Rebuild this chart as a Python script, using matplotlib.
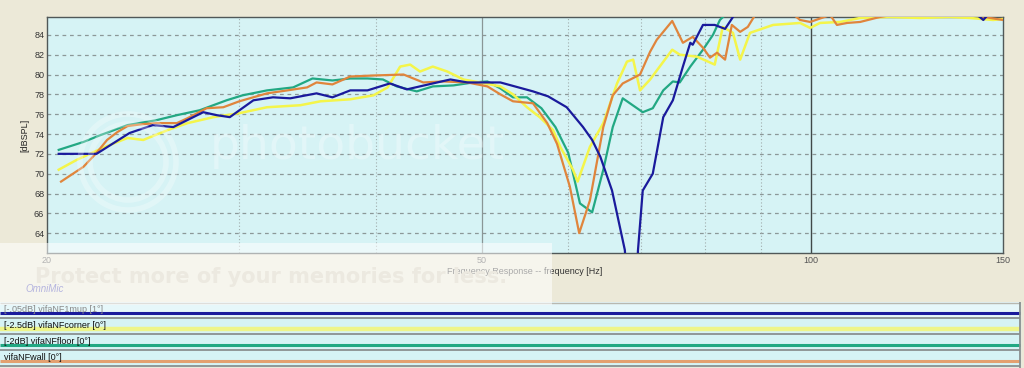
import matplotlib
matplotlib.use('Agg')
import matplotlib.pyplot as plt
from matplotlib.patches import Rectangle, Ellipse

# OmniMic near-field traces
f_mup = [20.5, 22.2, 23.8, 25.0, 26.1, 27.8, 28.6, 29.4, 30.9, 32.2, 33.4, 35.3, 36.5, 37.9,
         39.3, 41.2, 42.7, 45.1, 46.8, 48.5, 52.0, 55.7, 57.5, 59.8, 61.9, 63.1, 64.2, 65.8,
         67.6, 68.0, 69.2, 69.5, 70.2, 71.7, 73.3, 74.8, 76.4, 77.6, 78.0, 79.7, 81.7, 83.5,
         84.9, 86.5, 100, 130, 140, 143.9, 146.9, 150]
db_mup = [72.0, 72.0, 74.1, 74.9, 74.7, 76.2, 75.9, 75.7, 77.4, 77.7, 77.6, 78.1, 77.7, 78.4,
          78.4, 79.1, 78.5, 79.1, 79.5, 79.2, 79.2, 78.3, 77.8, 76.7, 74.7, 73.4, 71.7, 68.3,
          62.3, 58.0, 58.0, 62.3, 68.3, 70.0, 75.7, 77.4, 80.8, 83.2, 83.0, 85.0, 85.0, 84.6,
          85.8, 87.5, 90.0, 89.0, 86.6, 85.5, 86.6, 87.0]

f_corner = [20.5, 21.3, 22.6, 23.7, 24.5, 25.8, 26.9, 28.4, 30.0, 31.8, 34.1, 35.6, 37.9, 39.8,
            41.0, 42.1, 43.0, 43.9, 45.1, 46.5, 48.1, 49.8, 52.0, 53.4, 55.0, 56.5, 58.1, 59.0,
            60.6, 61.2, 62.8, 64.6, 66.5, 67.9, 68.8, 69.8, 71.3, 74.7, 75.9, 78.7, 81.7, 83.1,
            84.9, 86.2, 88.0, 92.4, 97.8, 99.9, 102, 106.4, 111, 118, 126, 134, 140, 146.9, 150]
db_corner = [70.4, 71.4, 72.7, 73.6, 73.4, 74.4, 75.1, 75.7, 76.1, 76.7, 76.9, 77.3, 77.5, 77.9,
             78.7, 80.8, 81.0, 80.3, 80.8, 80.3, 79.5, 79.2, 78.8, 78.0, 76.7, 75.7, 74.4, 72.7,
             70.4, 69.2, 72.7, 75.1, 79.1, 81.3, 81.5, 78.4, 79.5, 82.5, 82.0, 81.8, 81.0, 84.8,
             84.2, 81.5, 84.2, 85.0, 85.2, 84.7, 85.2, 85.3, 85.7, 85.8, 85.7, 85.8, 85.7, 85.5, 85.6]

f_floor = [20.5, 21.6, 22.4, 23.7, 25.2, 26.3, 27.6, 29.2, 30.2, 31.8, 33.6, 35.0, 36.5, 37.9,
           39.3, 40.6, 41.8, 43.6, 45.1, 47.1, 49.1, 50.6, 52.0, 53.4, 55.0, 56.7, 58.4, 60.0,
           61.5, 63.1, 64.6, 65.9, 67.3, 70.2, 71.7, 73.3, 74.8, 75.9, 77.6, 79.7, 81.4, 82.6,
           84.4, 90, 150]
db_floor = [72.4, 73.2, 73.9, 74.9, 75.4, 75.9, 76.4, 77.4, 77.9, 78.4, 78.7, 79.6, 79.4, 79.6,
            79.6, 79.5, 78.8, 78.3, 78.8, 78.9, 79.2, 79.3, 78.6, 77.7, 77.7, 76.6, 74.7, 72.1,
            67.0, 66.1, 70.4, 74.7, 77.6, 76.2, 76.6, 78.4, 79.3, 79.2, 80.8, 82.5, 84.0, 85.5,
            86.5, 88.0, 88.0]

f_wall = [20.6, 21.6, 22.2, 22.7, 23.2, 23.7, 24.5, 25.2, 26.3, 26.9, 28.0, 29.0, 30.0, 31.8,
          33.2, 34.6, 35.3, 36.5, 37.9, 39.8, 42.4, 44.2, 46.1, 48.5, 50.6, 52.0, 53.4, 55.7,
          57.4, 58.6, 60.2, 61.4, 62.8, 64.6, 65.9, 67.3, 69.8, 71.3, 72.3, 74.7, 76.4, 78.0,
          79.7, 80.9, 82.1, 83.5, 84.7, 86.2, 87.6, 89.3, 93, 97.8, 99.9, 104.2, 105.7, 108,
          111, 115.7, 120, 140, 146, 150]
db_wall = [69.2, 70.7, 72.1, 73.4, 74.2, 74.8, 75.0, 75.1, 75.1, 75.6, 76.6, 76.7, 77.3, 78.1,
           78.4, 78.7, 79.2, 79.0, 79.8, 79.9, 80.0, 79.2, 79.3, 79.2, 78.8, 78.0, 77.3, 77.1,
           75.1, 73.0, 68.7, 64.0, 67.3, 74.7, 77.9, 79.1, 80.0, 82.3, 83.5, 85.4, 83.2, 83.8,
           82.7, 81.7, 82.2, 81.5, 85.0, 84.3, 84.8, 86.3, 87.5, 85.5, 85.3, 86.0, 85.0, 85.2,
           85.3, 85.8, 86.1, 86.1, 85.7, 85.5]

legend_labels = ['[-.05dB] vifaNF1mup [1°]', '[-2.5dB] vifaNFcorner [0°]',
                 '[-2dB] vifaNFfloor [0°]', 'vifaNFwall [0°]']
colors = ['#1a1a9c', '#f4f54a', '#22a883', '#e0853c']
legend_line_colors = ['#1a1a9c', '#eef58a', '#22a883', '#e3a070']

y_ticks = [64, 66, 68, 70, 72, 74, 76, 78, 80, 82, 84]
x_ticks = [20, 50, 100, 150]
x_minor = [30, 40, 60, 70, 80, 90]

W, H = 1024, 368
fig = plt.figure(figsize=(W / 100, H / 100), dpi=100)
fig.patch.set_facecolor('#ece9d8')

ax = fig.add_axes([47 / W, 1 - 253 / H, (1003 - 47) / W, (253 - 17) / H])
ax.set_facecolor('#d6f3f5')
ax.set_xscale('log')
ax.set_xlim(20, 150)
ax.set_ylim(62, 85.8)

for y in y_ticks:
    ax.axhline(y, color='#8c9898', lw=0.9, ls=(0, (3, 3)), zorder=1)
for x in x_minor:
    ax.axvline(x, color='#a0acac', lw=0.8, ls=(0, (1, 2)), zorder=1)
ax.axvline(50, color='#8a9696', lw=0.9, zorder=1)
ax.axvline(100, color='#404848', lw=1.0, zorder=1)

ax.plot(f_floor, db_floor, color=colors[2], lw=1.6, zorder=3)
ax.plot(f_corner, db_corner, color=colors[1], lw=1.8, zorder=3)
ax.plot(f_wall, db_wall, color=colors[3], lw=1.6, zorder=4)
ax.plot(f_mup, db_mup, color=colors[0], lw=1.6, zorder=5)

ax.set_yticks(y_ticks)
ax.set_xticks(x_ticks)
ax.set_xticklabels([str(t) for t in x_ticks])
ax.minorticks_off()
ax.tick_params(axis='both', length=0, labelsize=6.5, labelfontfamily='Liberation Sans')
ax.tick_params(axis='y', pad=2, labelcolor='#333333')
ax.tick_params(axis='x', pad=2, labelcolor='#555555')
ax.set_ylabel('[dBSPL]', fontsize=6.5, family='Liberation Sans', labelpad=3, color='#222222')
for s in ax.spines.values():
    s.set_color('#505858')
    s.set_linewidth(1.0)

# photobucket watermark
ax.text(0.17, 0.45, 'photobucket', transform=ax.transAxes, fontsize=34, color='white',
        alpha=0.3, va='center', ha='left', zorder=6)
for r in (48, 38):
    fig.patches.append(Ellipse((128 / W, 1 - 162 / H), 2 * r / W, 2 * r / H,
                               transform=fig.transFigure, fill=False, ec='white',
                               lw=4, alpha=0.28, zorder=6))

fig.text(544 / W, 1 - 271 / H, 'Frequency Response -- ', fontsize=6.5, color='#444444',
         ha='right', va='center', family='Liberation Sans')
fig.text(544 / W, 1 - 271 / H, 'frequency [Hz]', fontsize=6.5, color='#333333',
         ha='left', va='center', family='Liberation Sans')
fig.text(25 / W, 1 - 289 / H, 'OmniMic', fontsize=7, color='#5a5ab8', style='italic',
         va='center', family='Liberation Sans')

# banner overlay
fig.patches.append(Rectangle((0, 1 - 305 / H), 552 / W, 62 / H, transform=fig.transFigure,
                             fc='white', alpha=0.55, ec='none', zorder=7))
fig.text(35 / W, 1 - 277 / H, 'Protect more of your memories for less.', fontsize=15,
         weight='bold', color='#ece9e0', va='center', zorder=8)

# trace list under the chart
lg = fig.add_axes([0, 0, 1, 66 / H])
lg.set_xlim(0, W)
lg.set_ylim(368, 302)
lg.axis('off')
row_bg = ['#e6f7fa', '#d6f3f5', '#d6f3f5', '#d6f3f5']
for i, lab in enumerate(legend_labels):
    top = 302 + 16 * i
    lg.axhspan(top, top + 16, xmin=0, xmax=1020 / W, color=row_bg[i], zorder=0)
    lg.hlines(top + 11, 0, 1020, color=legend_line_colors[i], lw=2.2 if i != 1 else 3.2, zorder=2)
    lg.hlines(top + 16, 0, 1020, color='#8a9090', lw=1.3, zorder=2)
    lg.text(4, top + 7, lab, fontsize=6.5, color='#888888' if i == 0 else '#111111',
            va='center', ha='left', family=['Liberation Sans Narrow', 'Liberation Sans'], zorder=3)
lg.hlines(302.5, 0, 1020, color='#b8b8b0', lw=1.0)
lg.vlines(1020, 302, 368, color='#8a9090', lw=1.3)

fig.savefig('out.png', dpi=100, facecolor=fig.get_facecolor())
